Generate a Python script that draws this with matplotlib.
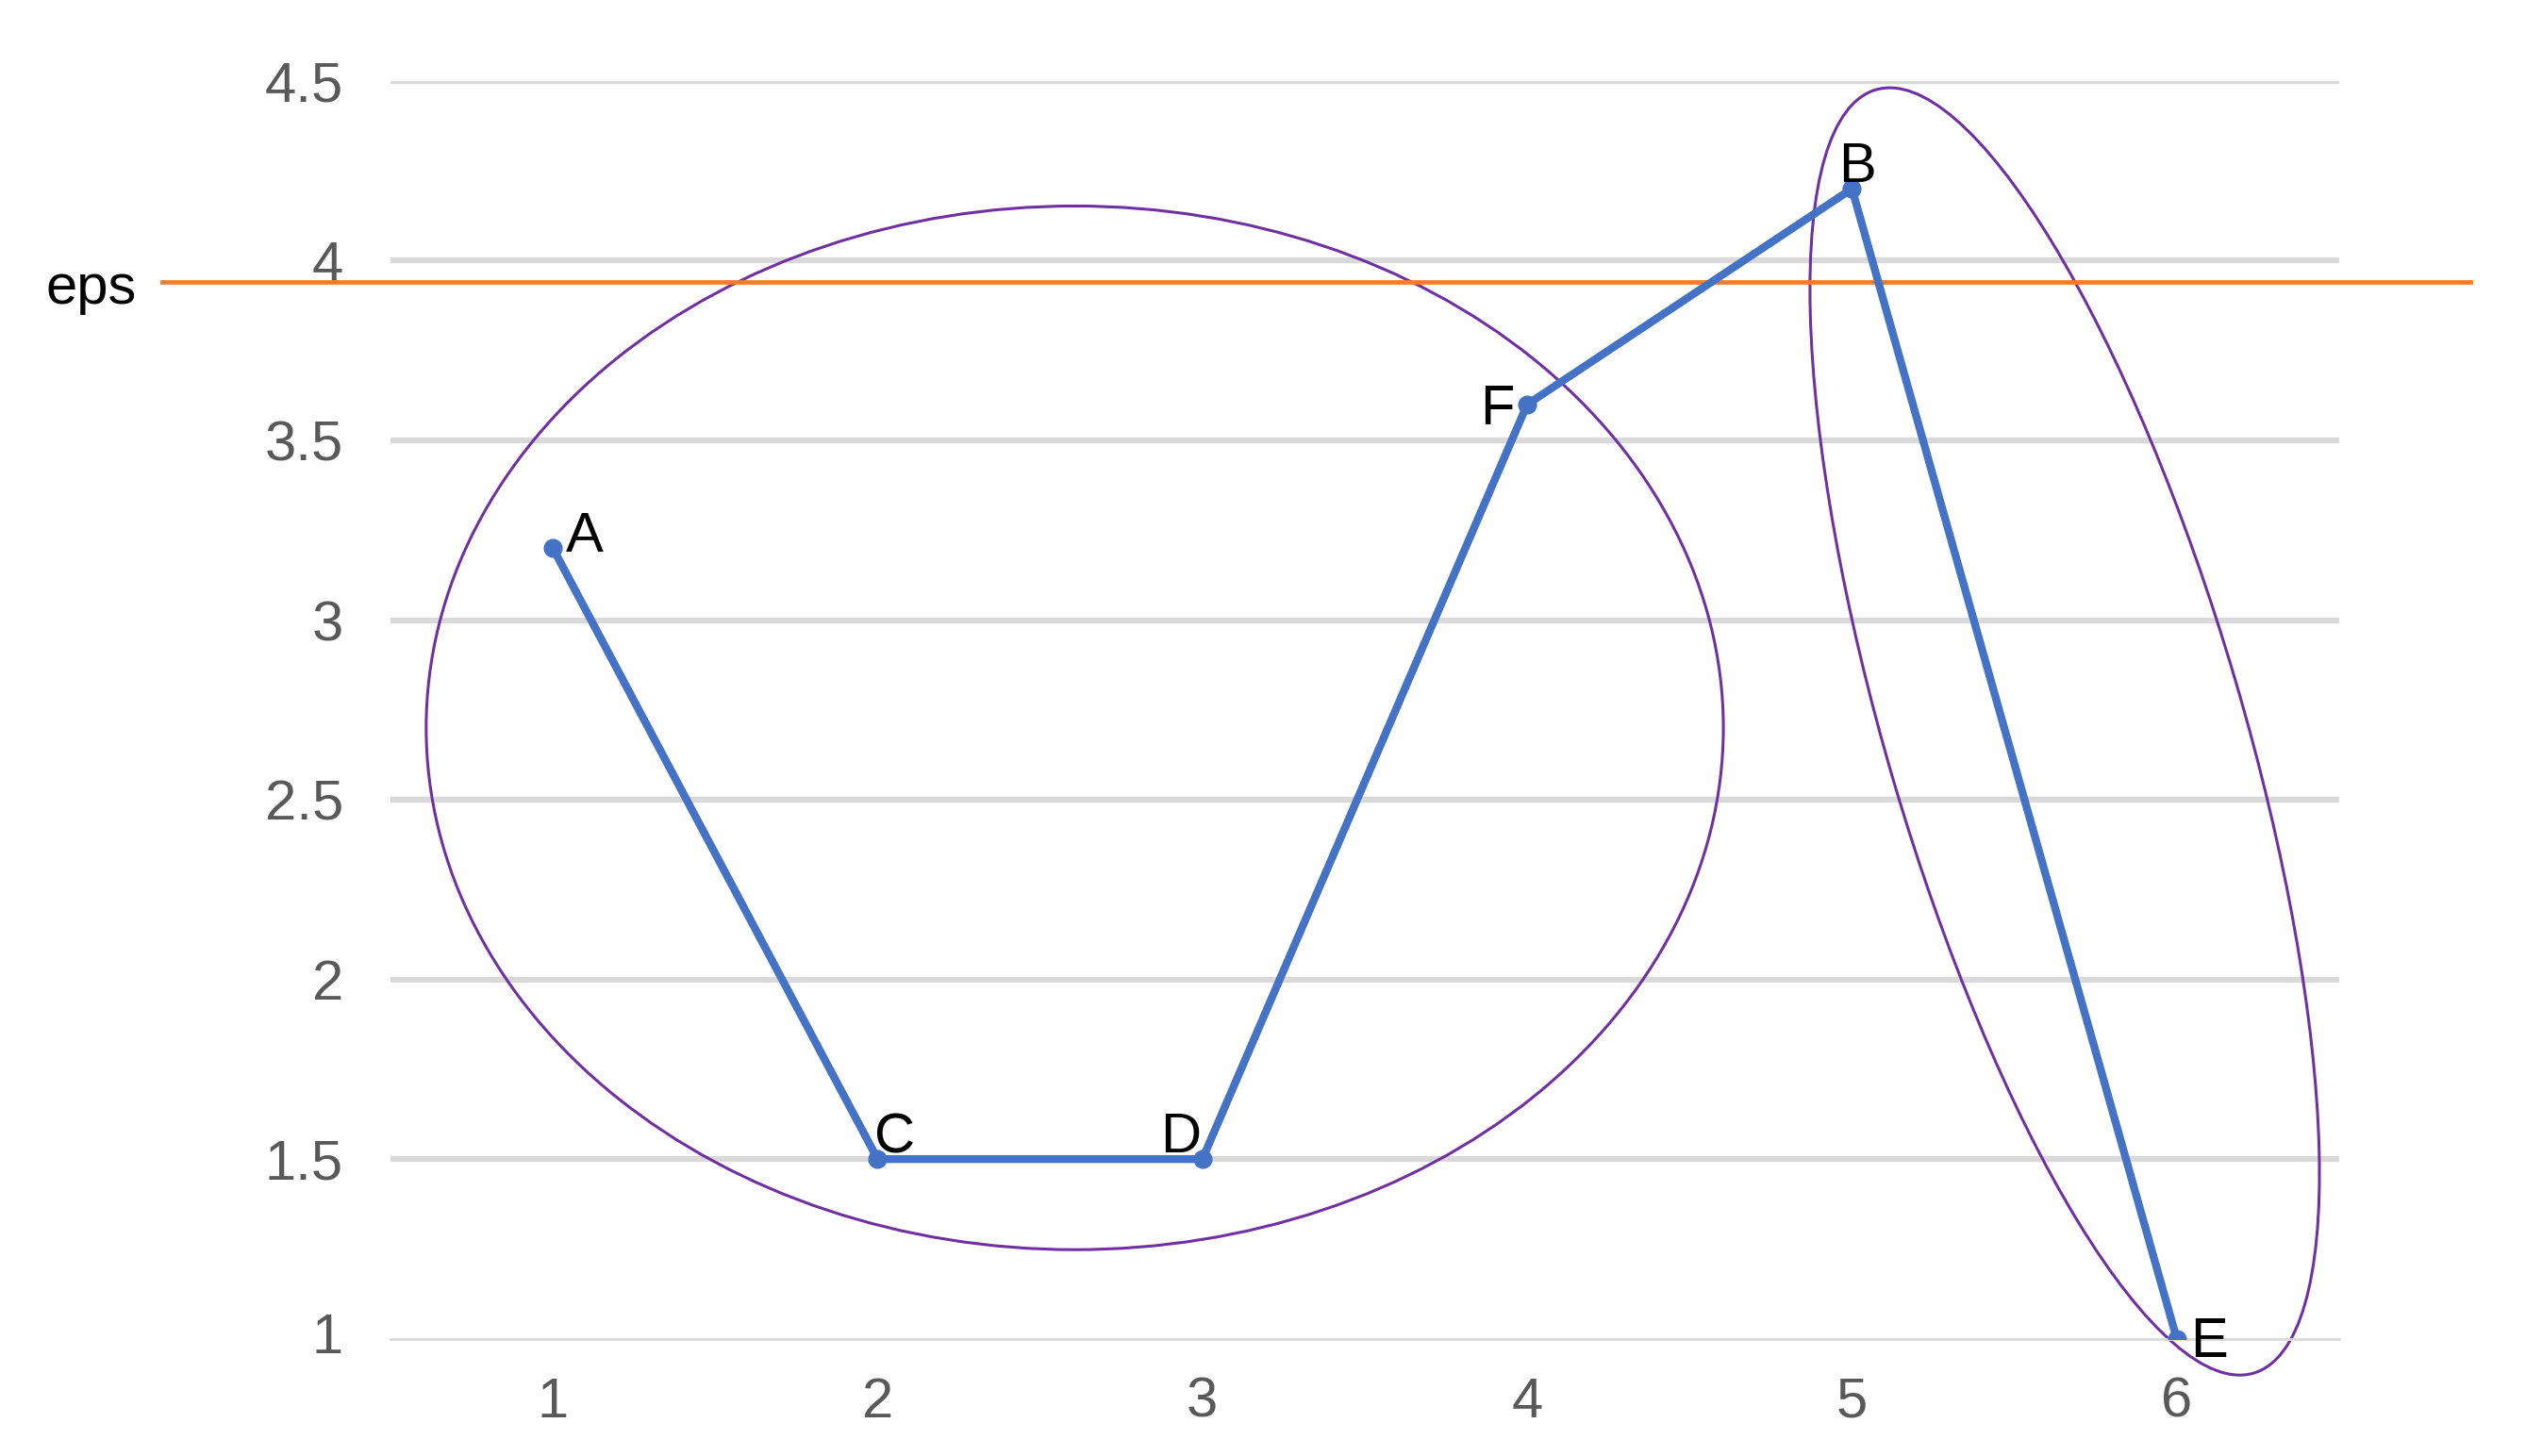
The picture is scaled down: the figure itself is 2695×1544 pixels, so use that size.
import matplotlib
matplotlib.use("Agg")
import matplotlib.pyplot as plt
from matplotlib.patches import Ellipse
from matplotlib.transforms import Affine2D

# data
xs = [1, 2, 3, 4, 5, 6]
ys = [3.2, 1.5, 1.5, 3.6, 4.2, 1.0]
names = ["A", "C", "D", "F", "B", "E"]
# label offsets in points (dx, dy, ha)
offsets = [(10, -2.5, "left"), (-2.5, 5, "left"), (-1, 5, "right"),
           (-10, -15, "right"), (4, 5, "center"), (10, -14, "left")]
eps = 3.94
yticks = [1, 1.5, 2, 2.5, 3, 3.5, 4, 4.5]
yticklabels = ["1", "1.5", "2", "2.5", "3", "3.5", "4", "4.5"]

# cluster ellipses: center x, center y, width, height (x units), angle
cluster1 = (2.607, 2.70, 3.994, 2.904, 0)
cluster2 = (5.655, 2.69, 4.12, 1.097, 106.4)

plt.rcParams['font.family'] = ['Liberation Sans', 'DejaVu Sans']

W, H = 26.95, 15.44
fig = plt.figure(figsize=(W, H), dpi=100)
ax = fig.add_axes([0.1536, 0.0805, 0.7666, 0.8639])
ax.set_xlim(0.5, 6.5)
ax.set_ylim(1, 4.5)

ax.set_yticks(yticks[1:])
ax.set_yticklabels(yticklabels[1:])
ax.set_xticks(xs)
ax.set_xticklabels([str(x) for x in xs])
ax.tick_params(axis='both', length=0, labelsize=43, labelcolor='#595959')
ax.tick_params(axis='y', pad=36)
ax.tick_params(axis='x', pad=29)
# the "1" label sits on the bottom spine, so it gets no gridline
ax.text(0.5, yticks[0], yticklabels[0], ha='right', va='center',
        fontsize=43, color='#595959',
        transform=ax.transData + Affine2D().translate(-50, 0))

ax.grid(axis='y', color='#D9D9D9', linewidth=4.5)
ax.set_axisbelow(True)
for s in ['top', 'right', 'left']:
    ax.spines[s].set_visible(False)
ax.spines['bottom'].set_color('#D9D9D9')
ax.spines['bottom'].set_linewidth(2)

# main series
ax.plot(xs, ys, color='#4472C4', linewidth=6, marker='o', markersize=13.5,
        solid_capstyle='round', zorder=3)
for x, y, n, (dx, dy, ha) in zip(xs, ys, names, offsets):
    ax.annotate(n, (x, y), xytext=(dx, dy), textcoords='offset points',
                ha=ha, va='baseline', fontsize=43, color='black')

# eps threshold line, running past the plot area
ax.plot([-0.204, 6.905], [eps, eps], color='#ED7D31', linewidth=3.4,
        clip_on=False, zorder=2)
ax.annotate("eps", (-0.204, eps), xytext=(-19, -16.5), textcoords='offset points',
            ha='right', va='baseline', fontsize=43, color='black',
            annotation_clip=False)

# ellipses drawn in a space with equal pixel scaling so rotation looks right
axw = W * 0.7666 / 6
axh = H * 0.8639 / 3.5
k = axh / axw
squash = Affine2D().scale(1, 1 / k) + ax.transData
for cx, cy, w, h, ang in [cluster1, cluster2]:
    if ang == 0:
        e = Ellipse((cx, cy), w, h, transform=ax.transData)
    else:
        e = Ellipse((cx, cy * k), w, h, angle=ang, transform=squash)
    e.set_facecolor('none')
    e.set_edgecolor('#7030A0')
    e.set_linewidth(2.2)
    e.set_clip_on(False)
    ax.add_patch(e)

fig.savefig("out.png", dpi=100)
